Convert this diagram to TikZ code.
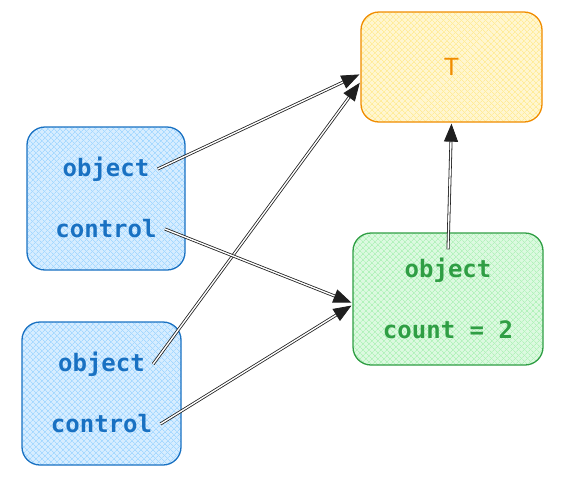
\documentclass[tikz,border=0pt]{standalone}
\usepackage{fontspec}
\setmonofont{DejaVu Sans Mono}
\setsansfont{Liberation Sans}
\usetikzlibrary{arrows.meta, patterns.meta}

\definecolor{bluestroke}{HTML}{1971C2}
\definecolor{bluefill}{HTML}{A5D8FF}
\definecolor{orangestroke}{HTML}{F08C00}
\definecolor{orangefill}{HTML}{FFEC99}
\definecolor{greenstroke}{HTML}{2F9E44}
\definecolor{greenfill}{HTML}{B2F2BB}

\tikzset{
  hatched/.style={
    preaction={fill=#1!45},
    preaction={pattern={Lines[angle=45,distance=4pt,line width=0.8pt]}, pattern color=#1},
    pattern={Lines[angle=-45,distance=4pt,line width=0.8pt]}, pattern color=#1},
  box/.style={draw, rounded corners=18pt, line width=1.3pt, inner sep=0pt},
  label/.style={font=\ttfamily\bfseries\fontsize{24}{24}\selectfont, text=#1, outer sep=5pt},
  edge/.style={draw=black!88, double=white, double distance=1.4pt, line width=0.8pt,
    -{Triangle[length=18pt,width=14pt,fill=black!88]}, shorten >=1pt}
}

\begin{document}
\begin{tikzpicture}[x=1pt, y=-1pt]
  \useasboundingbox (0,0) rectangle (569,480);

  % Boxes
  \node[box, hatched=bluefill, draw=bluestroke, minimum width=158pt, minimum height=143pt] (left1) at (106,198.5) {};
  \node[box, hatched=bluefill, draw=bluestroke, minimum width=159pt, minimum height=143pt] (left2) at (101.5,393.5) {};
  \node[box, hatched=orangefill, draw=orangestroke, minimum width=181pt, minimum height=110pt,
        font=\sffamily\fontsize{25}{25}\selectfont, text=orangestroke] (t) at (451.5,67) {T};
  \node[box, hatched=greenfill, draw=greenstroke, minimum width=190pt, minimum height=132pt] (counter) at (448,299) {};

  % Labels
  \node[label=bluestroke] (obj1) at (106,169) {object};
  \node[label=bluestroke] (ctl1) at (106,229) {control};
  \node[label=bluestroke] (obj2) at (101.5,364) {object};
  \node[label=bluestroke] (ctl2) at (101.5,424) {control};
  \node[label=greenstroke] (cobj) at (448,270) {object};
  \node[label=greenstroke] (cnt) at (448,330) {count = 2};

  % Edges
  \draw[edge] (obj1.east) -- ([yshift=-7pt]t.west);
  \draw[edge] (obj2.east) -- ([yshift=-15pt]t.west);
  \draw[edge] (ctl1.east) -- ([yshift=-4pt]counter.west);
  \draw[edge] (ctl2.east) -- ([yshift=-6pt]counter.west);
  \draw[edge] (cobj.north) -- (t.south);
\end{tikzpicture}
\end{document}
